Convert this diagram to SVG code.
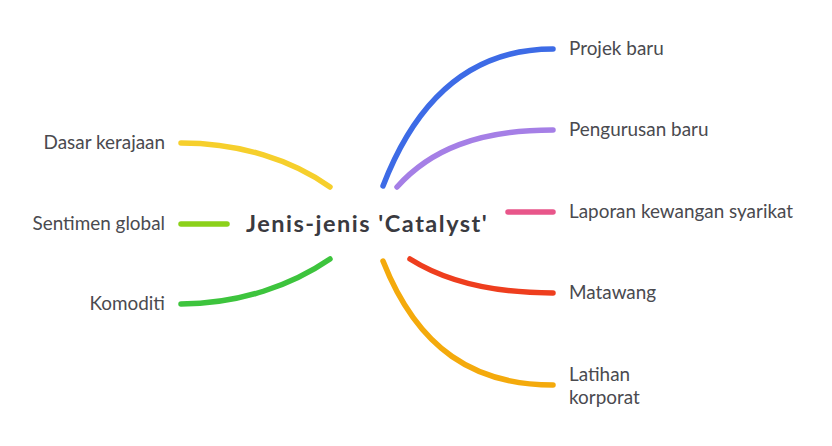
<svg xmlns="http://www.w3.org/2000/svg" width="832" height="446" viewBox="0 0 832 446">
<style>
.c{fill:none;stroke-width:5.5;stroke-linecap:round}
.t{font-family:Lato,"Noto Sans",sans-serif;font-size:18.9px;fill:#4a4a4f}
.r{text-anchor:end}
.m{font-family:Lato,"Noto Sans",sans-serif;font-size:23.5px;font-weight:bold;letter-spacing:1.5px;fill:#3a3a40}
</style>
<rect width="832" height="446" fill="#ffffff"/>
<g id="connectors">
<path class="c" stroke="#3d6be6" d="M383,186 C418,95 475,49 553,49"/>
<path class="c" stroke="#a57fe6" d="M397,187 C430,150 478,130 553,130"/>
<path class="c" stroke="#e8568a" d="M508,212 L553,212"/>
<path class="c" stroke="#ee3e1e" d="M410,259 C448,283 498,293 553,293"/>
<path class="c" stroke="#f4aa0c" d="M383,261 C418,350 475,385 553,385"/>
<path class="c" stroke="#f6cf2c" d="M330,187 C292,160 240,143 181,143"/>
<path class="c" stroke="#8cd11a" d="M181,224 L227,224"/>
<path class="c" stroke="#3dc43d" d="M330,259 C292,285 240,304 181,304"/>
</g>
<g id="center"><text class="m" x="246" y="232">Jenis-jenis 'Catalyst'</text></g>
<g id="n1"><text class="t" x="569" y="55">Projek baru</text></g>
<g id="n2"><text class="t" x="569" y="136">Pengurusan baru</text></g>
<g id="n3"><text class="t" x="569" y="218">Laporan kewangan syarikat</text></g>
<g id="n4"><text class="t" x="569" y="299">Matawang</text></g>
<g id="n5"><text class="t" x="569" y="381">Latihan</text><text class="t" x="569" y="404">korporat</text></g>
<g id="n6"><text class="t r" x="165" y="149">Dasar kerajaan</text></g>
<g id="n7"><text class="t r" x="165" y="230">Sentimen global</text></g>
<g id="n8"><text class="t r" x="165" y="310">Komoditi</text></g>
</svg>
